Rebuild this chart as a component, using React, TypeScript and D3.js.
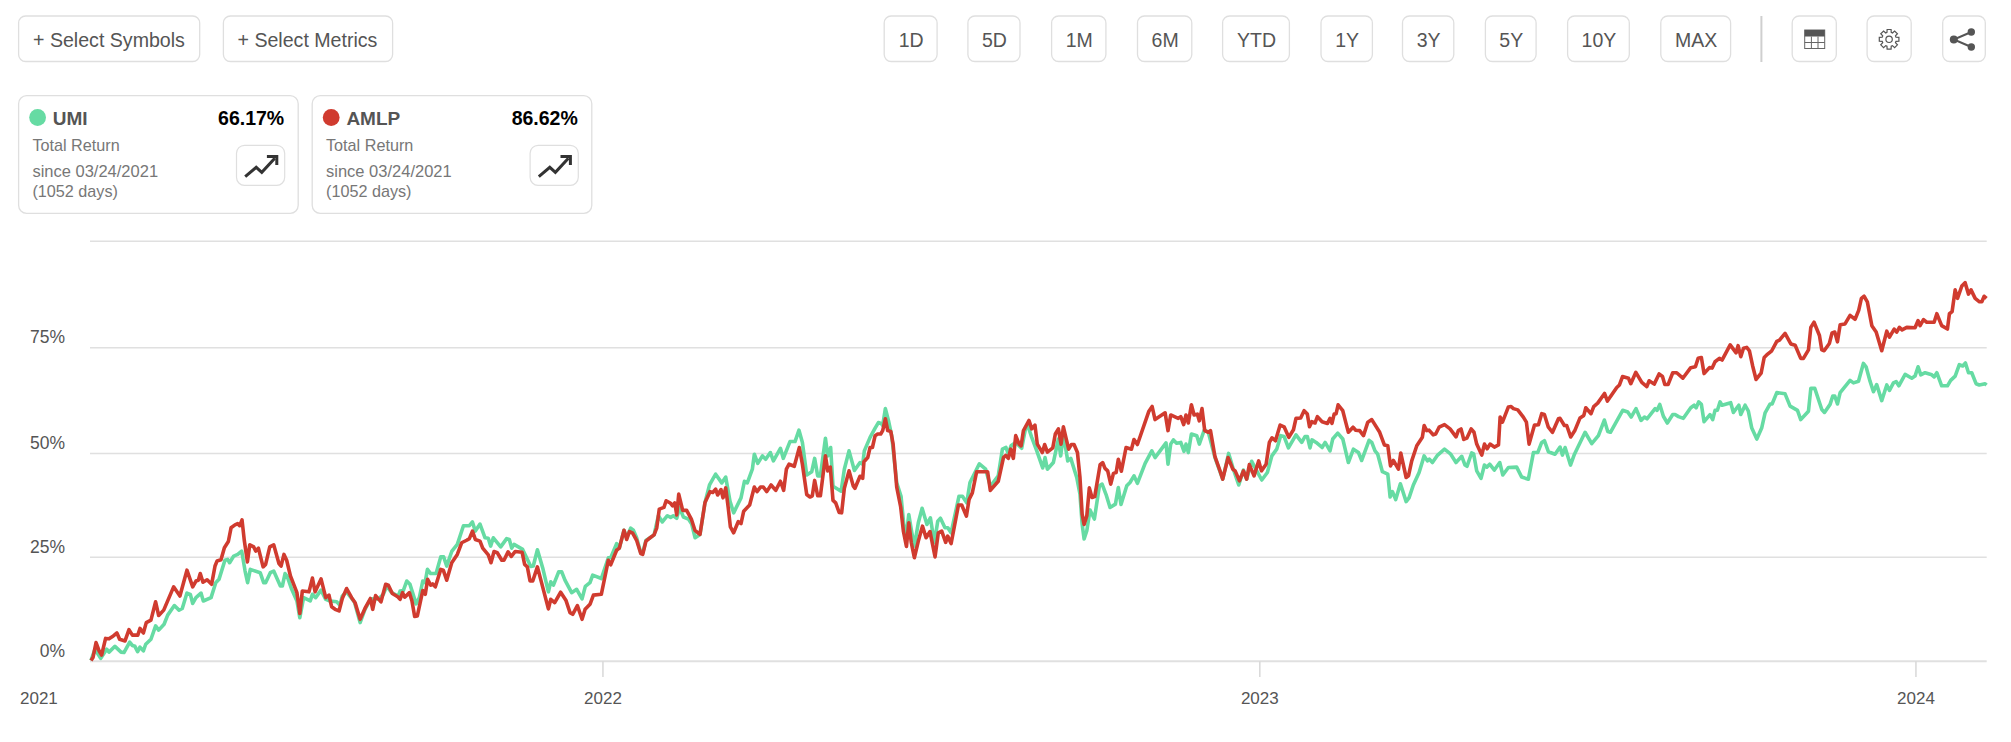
import React from 'react';
import * as d3 from 'd3';

// [days since 03/24/2021, total return %]
const umiPoints: [number, number][] = [
  [0,0.2],[2.2,2.9],[5.4,0.7],[8.7,2.9],[10,2.2],[13.3,3.6],[16.7,2.2],[18.3,2.1],[21.5,4.6],[23,3.8],[24.4,3.6],[25.9,2.3],[27.2,3.4],[29.1,2.5],[30.4,4.1],[33.3,5.3],[35.9,8.5],[37.6,7.5],[40.6,8.9],[42.6,11.1],[46.3,13.4],[48.9,12.3],[50.7,12.7],[53.3,16.4],[55.2,16.1],[56.5,13.9],[58.3,15.3],[61.1,16.4],[62.4,14.5],[66.7,15.3],[69.3,18.9],[71.1,19.7],[74.4,24.3],[75.9,24.5],[77,23.7],[79.3,25.3],[81.5,25.7],[83.7,26.5],[85.6,21.7],[87,18.9],[88.5,22.1],[94,21.3],[95.9,18.9],[97,18.9],[99.6,21.3],[101.5,21.7],[105.2,18.1],[106.3,18.1],[107.8,21.1],[108.9,20.5],[111.5,17.3],[114.4,14.5],[116,10.5],[118.1,15.3],[121.8,14.5],[123,16.1],[124.8,15.3],[127.8,17.1],[130.4,14.9],[132.8,14.5],[136.5,14.3],[138.3,13.5],[139.6,15.7],[142,16.7],[146.3,14.3],[149.5,9.3],[152.2,12.5],[155.2,14.9],[157.4,15.1],[159.6,14.9],[162.4,16.1],[164.3,18.1],[167,16.5],[170.7,15.7],
  [171.7,16.9],[173.5,17],[175.4,19.3],[177.2,18.5],[180.6,13.8],[182.4,15.3],[184.3,19.3],[185.6,18.9],[186.9,22.1],[188.7,21.1],[191.7,21.1],[194.3,25.1],[195.9,25.1],[197.6,22.9],[200.4,26.4],[203.5,28.1],[206.9,32.6],[210.2,32.6],[211.9,33.5],[213.5,31.3],[216.1,33],[218.9,29.7],[220.7,29.6],[222,27.7],[223.5,29.7],[227.6,27.5],[230.9,29.5],[232.4,29.3],[233.7,27.2],[235,28.1],[239.8,26.9],[242,24.9],[244.3,22.8],[245.7,22.9],[248,26.8],[250.9,22.5],[254.1,16.7],[255.4,19.1],[256.9,18.3],[259.8,21.5],[261.5,21.5],[263.3,19.5],[267,16.5],[269.8,17.3],[272.8,15],[274.6,18],[277.2,18.9],[278.7,20.7],[283.5,19.9],[287.4,24.9],[288.7,24.9],[292,28.3],[293.5,27.2],[296.1,31.5],[297.6,29.7],[299.8,32],[301.3,31.5],[303.1,29.7],[305.4,26.1],[306.5,26.1],[308.3,29.1],[310.6,29.7],[312.8,30.4],[315.2,35],[317.4,33.5],[320.2,35],[322,34.6],[323.5,35],[325.4,34.4],[326.9,37],[329.1,34.7],[331.9,34.2],[333.7,33],[335.6,29.7],[338.3,30.5],[341.1,38.2],[343.6,42.4],[347,45],
  [350.4,42.9],[352.6,44.3],[355,38.5],[357,35.7],[361.1,39.3],[363,43.3],[364.6,42.9],[367.4,46.2],[368.5,49.8],[370.4,47.6],[373,49.4],[374.8,48.6],[377.4,50.2],[379.1,48.2],[383,51.2],[384.6,48.8],[388.3,52.8],[391.1,52.8],[393.3,55.5],[395.2,52.6],[397.6,44.8],[400.4,45.6],[402,48.8],[403.7,44.6],[405.2,44.6],[408,53.6],[409.3,49.4],[410.9,51.4],[412.2,42.1],[416.7,40.9],[418.5,46.2],[421.1,50.6],[424.1,45.9],[427.2,47.8],[428.7,47.4],[429.6,50.6],[432.8,53.8],[435.6,56],[437.4,57.3],[438.9,57.1],[439.8,56.6],[441.3,60.6],[443,57.8],[444.8,54.2],[446.7,46.6],[447.6,42.9],[450,39.7],[451.5,32.9],[453,30.5],[454.3,35.3],[456,30.9],[457.4,27.7],[459.6,33.3],[461.7,36.8],[464.4,32.9],[466.3,34.5],[468.5,28.5],[470.4,33.7],[471.9,34.4],[474.4,32.1],[476,32.1],[477.8,30.9],[482.2,39.7],[484.1,39.7],[486.5,38.1],[488.3,43],[493.5,47.5],[497,46.2],[499.6,42.1],[504,44.6],[506.3,51],[508.3,51.4],[509.6,49.8],[511.1,51.8],[513.7,52.6],[517,51.2],[519.3,56.2],[520.4,56.6],[522.6,53.8],
  [525.4,50.6],[528.7,46.5],[530,49],[531.3,46.2],[534.6,47.8],[537.4,53.4],[538.7,49.4],[540.2,54.6],[542.6,48.2],[544.3,48.8],[547.6,44.2],[549.4,40.2],[550.6,33],[551.7,29.4],[553.2,31.4],[555,36.4],[557.4,34.2],[560.2,42.2],[561.7,42.6],[563.9,40.1],[566.1,37],[569.1,37.8],[570.7,41.8],[572.2,37.7],[575.4,42.2],[577.2,43],[579.4,44.6],[581.3,42.8],[585.6,47.6],[589.3,50.6],[591.1,49],[597.2,52.5],[598.3,47.4],[599.8,52.2],[601.3,53.2],[603.1,52.4],[605.4,52.6],[607.2,50.5],[608.3,52.2],[609.6,50.2],[611.3,54.6],[614.3,54.2],[615.7,52.2],[618.5,55.6],[620.7,55],[624.4,49],[628.7,43.8],[632,50],[634.6,46.2],[637.6,42.4],[640.2,46],[642,43.8],[644.8,48.1],[647.6,45.8],[650.4,43.6],[653.5,45.4],[656,49.4],[658.7,51],[660.9,54.2],[662.8,54],[665.2,51.3],[669.4,54.4],[672.6,52.6],[674.4,54],[675.7,54],[677.2,51.3],[678.3,53.2],[680.6,52.6],[683.9,51.4],[685.6,52.6],[688.3,50.6],[689.8,53.4],[692.6,54.8],[695.4,53.4],[698.5,47.8],
  [701.3,51],[704.1,50.2],[705.9,48.3],[710,53.1],[711.5,52.6],[713.3,50.6],[714.8,49.8],[717.4,45.6],[720.4,45],[721.7,39.5],[723,40.8],[724.8,38.9],[727.4,42.7],[730.6,38.4],[732.2,39.3],[734.6,42.4],[737.8,45.4],[740.6,49.4],[742.4,48.2],[743.5,48.6],[745.2,47.8],[748.1,49.6],[751.9,51],[755.2,49.9],[758.3,47.8],[761.5,49.3],[763.3,47.2],[764.4,46.9],[767,50.1],[768.1,49.9],[769.8,45.8],[772.2,44],[774.1,47.2],[775.4,46.7],[777,47.4],[779.6,46],[782.6,47.8],[784.3,44.8],[787.4,46.6],[792,46.7],[794.8,44.3],[798.5,43.8],[801.3,50.2],[803.7,50.2],[805.9,52.6],[807.4,53],[809.6,50.4],[813.3,49.8],[816.1,51.5],[817.4,49.6],[818.9,51.4],[821.9,47.2],[824.1,49.8],[830,55],[833.7,52.3],[837.4,54.2],[840.7,57.9],[842.6,55.2],[844.1,55],[850.9,60.2],[853.7,59.8],[855.6,58.6],[858.3,60.6],[861.1,57.8],[863,58.6],[864.4,58.2],[868.9,60.6],[870,60.2],[871.5,61.6],
  [873.5,58.8],[875.7,57.2],[878.7,59.2],[880,59.2],[881.9,58.7],[884.6,58.3],[888.7,60.8],[890.6,61.4],[891.7,60.8],[893.1,62.2],[894.6,61.6],[896.1,57.5],[899.4,59.2],[900.9,58],[902.2,60.2],[903.5,60.2],[905,62.2],[906.1,61.4],[910.9,62],[912.4,59.7],[915.4,61.4],[916.5,59.2],[918.9,61.4],[920.7,60],[922.6,56],[925.4,53.4],[928.1,56],[930,59.6],[932.8,61.7],[933.9,61.7],[936.5,64.4],[941.1,64.1],[943.9,61.2],[948,60.2],[949.8,58],[954.1,60],[955.4,65.4],[957.6,65.4],[961.5,60.4],[963,59.7],[966.1,61.6],[967.6,63.6],[968.7,63.6],[970.2,61.7],[971.7,64.4],[977.2,67.3],[979.1,66.7],[981.9,67.1],[984.6,71.3],[986.1,70.5],[988.3,67.1],[990.2,64.6],[992,66.3],[994.8,62.5],[997.6,66.2],[999.1,64.9],[1001.3,66.7],[1002.8,67],[1004.3,66],[1007.8,68.7],[1011.5,67.8],[1013.3,68.3],[1015,70.5],[1016.5,68.6],[1018.9,69.1],[1022.6,68.6],[1023.9,68.1],[1025.4,69.1],[1028.1,66],[1031.3,66],[1033.1,67.3],[1035.6,68.3],[1037.9,71],[1039.8,70.7],[1041.3,71.4],[1043,69.1],[1044.8,69.1],[1047.2,66.5],[1049,66.2],[1052.2,66.5],[1053,66.17],
];

const amlpPoints: [number, number][] = [
  [0,0.2],[1.1,0.9],[2.8,4.5],[4.4,2.6],[5.9,1.5],[8.1,5.5],[10,5.4],[12.4,6.1],[14.4,6.8],[15.9,5.3],[18.9,4.9],[21.1,7.6],[23,6.3],[26,6.3],[27.2,7.9],[29.1,6.8],[30.7,9.3],[33.3,9.9],[35.9,14.3],[37.6,11],[40.4,12.3],[45.9,17.9],[49.4,15.7],[53.3,21.9],[56.5,17.9],[58.3,19.3],[59.6,19.5],[60.7,21.1],[62.2,19],[64.5,19.6],[67,18.5],[68.9,22.9],[70,24.1],[72.2,24.4],[74.1,27.3],[76.3,28.8],[77.8,32.1],[80,32.8],[81.5,33.1],[82.6,32.6],[83.9,34],[85.2,28.9],[86.9,23.9],[88.2,28],[90.4,27.5],[91.5,26.5],[93,27.2],[95.6,22.7],[97,23.3],[99.3,27.5],[101.5,28],[104.4,23.5],[105.6,22.9],[107.2,25.7],[108.7,24.3],[110.8,20.5],[114.4,16.5],[116,11.5],[117.4,16.9],[121.1,16.7],[123,20],[124.5,16.7],[127.8,19.8],[130.4,15.3],[132.2,15.9],[133.7,13.1],[135.6,12.5],[137.8,12.1],[139.6,15.1],[142,17.5],[144.8,15.3],[146.7,14.1],[149.5,10.1],[152.2,12.7],[155.2,15.1],[156.5,12.5],[158.1,15.8],[161.1,14.3],[163.7,18.5],[165.2,18.3],[167.4,16.3],[170.4,15.5],
  [171.7,14.9],[173.1,16.5],[174.3,15.4],[176.9,16.5],[178.3,14.5],[179.8,10.8],[181.3,10.9],[184.3,17],[185.7,16.1],[187,19.7],[188.7,18.3],[189.8,18.6],[191.3,17.9],[194.3,22.1],[195.7,21.9],[197.6,19.5],[200.4,23.7],[203.5,25.7],[205.9,28.5],[208.7,29.1],[210.2,29.5],[211.9,31.3],[213.5,29.3],[216.1,28.9],[217.6,27.2],[220.7,25.6],[222.2,23.7],[223.9,26.4],[225.7,26.1],[228.2,24.3],[229.4,24.3],[231.7,26.3],[233.5,25.2],[235.7,26.4],[239.5,26.2],[240.9,23.3],[242.4,22.7],[243.9,19.3],[245.4,19.3],[248,22.7],[254.1,12.6],[255.4,14.9],[257.6,14.1],[260.9,16.6],[263.9,14.6],[266.1,11.7],[267.6,11.3],[270.2,13.4],[272.8,10.1],[274.5,12.5],[277.2,13.7],[279.1,15.9],[283.5,16.1],[287.4,24.3],[288.7,23.2],[292,26.7],[293.5,27.2],[296.1,31.5],[297.6,29.3],[299.1,31.2],[300.9,30.8],[303.1,29.1],[305.4,25.9],[306.5,25.7],[308.3,28.9],[310.6,29.7],[312.8,30.4],[314.3,32.1],[315.7,36.6],[318.3,37],[319.5,38.6],[322,38],[323.1,37.4],[324.3,38.1],[325.4,35.2],[326.5,40.2],[328.7,36.3],[330.9,36.3],[333.5,34.2],[335.5,31.5],[338.3,30.5],[341.1,38.2],[343.9,40.8],[345.4,40.6],[347,41.4],
  [348.1,40],[350,41.3],[351.1,39.3],[352.6,41.7],[354,36.9],[355.2,32.3],[357,30.9],[359.6,33.6],[361.1,33.1],[362.6,36.1],[365.9,37.6],[368.5,41.9],[370,40.8],[371.9,41.9],[373.5,41.9],[375.4,40.8],[377.8,42.4],[380.4,41.1],[383,43.3],[384.8,41.1],[386.3,46.2],[387.8,47.4],[390.7,46.9],[393.5,51.4],[395.2,47.4],[397.6,40.1],[399.4,39.5],[400.7,39.8],[402,43.5],[403.7,39.8],[405.2,39.8],[408,49.4],[409.3,45.8],[410.7,46.7],[412.2,38.7],[413.7,38.1],[415.6,35.8],[417,35.7],[418.5,41.6],[421.1,45.8],[423.5,42.1],[424.4,41.6],[427.2,44.5],[428.7,44],[429.4,48],[431.5,49],[432.8,51.4],[434.1,51.4],[435.6,54.2],[437,54.6],[438.7,54.6],[439.8,55.4],[441.3,58.2],[442.6,55.4],[444.3,55.2],[445.6,52.2],[446.7,46.6],[447.6,41.9],[449.8,37.1],[451.3,31.3],[453,27.6],[454.3,33.3],[455.7,28.5],[457.4,24.9],[459.6,28.9],[461.9,32.5],[463.9,29.7],[466.1,31.2],[468.9,25.1],[470.7,30.9],[472.6,31.3],[474.8,28.6],[475.9,30.1],[477.8,28.3],[481.9,37.6],[483.7,37.6],[486.3,34.9],[487.8,38.9],[489.6,40.5],[492,45.6],[498.1,45.6],[499.6,41.1],[504,43.3],[506.9,49],[508.1,49.5],[509.6,48.8],[510.9,51],[512.4,48.8],[513.7,54.2],[515.6,52.2],[516.7,51.8],[518,55.4],[521.1,57.8],[522.6,55.8],
  [524.4,56.7],[525.7,52.2],[528.5,50.2],[529.8,52.1],[531.3,50.3],[534.3,51.3],[535.7,54.6],[537.4,55.8],[538.9,52.2],[540.2,56.3],[543.1,51],[544.6,52.1],[546.1,52.1],[548,50.2],[549.4,44.2],[550.6,35.4],[551.7,32.9],[553.2,35],[554.6,41.7],[556.1,39.4],[557.6,39.6],[560.6,47.3],[562,47.8],[563.3,46.4],[564.8,45.8],[566.5,42.6],[568,45.2],[569.5,45.4],[570.7,48.6],[572.4,45.7],[575,51.4],[578,51],[579.4,53.3],[581.3,52.1],[587.6,59.9],[589.5,61.1],[591.1,58],[596.7,59.6],[598.3,55.4],[599.8,59.1],[604,58.3],[605.4,58.7],[607,56.8],[608.3,59.1],[609.6,57.2],[611.3,61.5],[612.8,59.1],[614.6,59.3],[615.7,57.7],[617.2,60.6],[618.7,55.4],[620.7,55],[621.9,55.4],[624.4,49.2],[627.2,45.8],[628.7,43.8],[631.7,49],[634.3,46.2],[635.6,45.8],[638,43.4],[640.2,45.8],[642,43.8],[643.5,47.3],[646.1,44.6],[648.7,48.2],[650.2,45.8],[652.8,47.4],[654.6,52.6],[656.1,53.7],[658,53],[660.6,56.7],[662.8,56.3],[665.4,53.8],[668,55.6],[669.4,58.3],[672,58.4],[673.9,60.1],[675.7,59.3],[676.9,56.3],[678.2,57.5],[680,57.2],[681.3,58.7],[683.9,57.5],[686.9,57.1],[688.3,58.3],[689.4,57.1],[690.6,59.3],[691.7,59.4],[692.8,61.5],[695.4,60.1],[697.2,57.1],[698.5,55],
  [701.1,56.2],[702.6,55.5],[704.8,55.4],[706.9,54.2],[709.3,57.4],[711.5,58],[715.9,55],[718.5,52],[720.4,51.8],[721.9,47],[723.5,48.3],[726.3,46.2],[727.6,50.1],[730.6,44.2],[731.9,44.6],[733.7,48.2],[736.5,51.8],[739.6,53.8],[740.6,56.6],[742,55.4],[743.3,55.5],[745.6,54.4],[747,54.6],[748.9,56.2],[751.9,56.8],[755,55.8],[758.3,53.9],[759.6,55.4],[761.1,55.8],[762.6,53.3],[764.3,53.6],[766.7,55.8],[768.3,55],[769.8,52.2],[772.6,49.6],[774.1,52.2],[775.6,51.1],[777.2,52.2],[779.6,51.5],[781.9,52],[782.8,58.6],[784.1,57.4],[787.4,61],[788.9,61.1],[790.2,60.6],[792.6,60.3],[795.7,58.6],[797.4,57.4],[798.9,52.2],[801.9,56.7],[804.1,56.8],[805.9,59.4],[807.4,59.2],[809.6,56.2],[811.9,55],[815.2,58.2],[816.1,58.3],[818.5,56.6],[819.8,56.6],[822,53.9],[824.4,55.5],[827.2,58.4],[829.3,59],[830.4,60.8],[833.3,59.4],[834.8,61.1],[837,61.9],
  [840.8,64.2],[842.4,62.4],[847.6,65.6],[849.1,66.2],[850.8,68.2],[854.1,67.8],[855.4,66.5],[858.2,69.2],[861.5,66.8],[864.3,65.8],[865.6,67.2],[868.4,66.4],[871.1,68.8],[873,68.2],
  [874.3,66.3],[876.1,66.3],[878.7,69.1],[880.9,69.1],[884.3,67.8],[888.7,70.3],[891.3,70.5],[892.8,72.5],[894.6,72.7],[896.1,68.9],[899.1,70.3],[900.6,70.2],[902.2,71.7],[904.6,72.5],[906.1,72.1],[910.6,75.7],[913.9,73.8],[915,75.5],[916.5,72.9],[918,74.9],[919.8,75.1],[921.3,74.3],[923.1,70.7],[925,67.5],[927.8,69],[929.5,72.7],[930.9,73.3],[933.7,74.3],[936.5,76.5],[938,76.8],[941.1,78.4],[944.3,75.9],[946.7,75.6],[949.8,72.5],[951.3,72.5],[954.1,74.5],[955.4,79.8],[957.2,81],[960.2,77.9],[961.5,74.5],[962.8,74.3],[965.7,76],[967.2,78.5],[968.7,78.7],[970.2,76.4],[971.7,80.4],[974.4,80.6],[977.2,82.6],[980,81.7],[982,83.8],[983.5,86.6],[985,87.1],[986.8,85.8],[989.3,80.2],[991.7,78.7],[994.8,74.3],[997.6,78.9],[999.1,77.5],[1001.7,79.4],[1003.1,78.7],[1004.6,79.8],[1006.1,79.2],[1008.7,79.8],[1013.3,79.7],[1015,81.4],[1016.1,80.2],[1018,81.6],[1019.8,81],[1023.9,81],[1025.4,83],[1028.1,80.2],[1031.3,79.4],[1032.4,83],[1033.9,83.5],[1035.6,88.6],[1036.9,86.6],[1039.3,89.5],[1041.1,90.3],[1043,87.6],[1044.4,88.6],[1046.7,86.6],[1049.1,85.8],[1050.4,85.8],[1051.7,87.1],[1053,86.62],
];

const yGrid = [0, 25, 50, 75, 100];
const yLabels = [0, 25, 50, 75];
const yearTicks: [string, number][] = [['2022', 284.4], ['2023', 649.3], ['2024', 1013.8]];
const ranges = ['1D', '5D', '1M', '6M', 'YTD', '1Y', '3Y', '5Y', '10Y', 'MAX'];
const rangeEdges: [number, number][] = [[884.2, 937.1], [967.9, 1020], [1051.6, 1105.9], [1137.5, 1191.8], [1222.6, 1289.4], [1321, 1372.4], [1402.5, 1453.8], [1485.4, 1536.1], [1567.6, 1629.3], [1660.8, 1730.6]];
const cards = [
  { name: 'UMI', value: '66.17%', color: '#66dba3', left: 18.6 },
  { name: 'AMLP', value: '86.62%', color: '#d03b2f', left: 312.2 },
];

const FONT = '"Liberation Sans", Arial, sans-serif';
const BORDER = '#dfdfdf';

const x = d3.scaleLinear().domain([0, 1053]).range([91, 1986.5]);
const y = d3.scaleLinear().domain([0, 25, 50, 75, 100]).range([661.3, 557.3, 453.4, 347.8, 241.3]);
const line = d3.line<[number, number]>().x(d => x(d[0])).y(d => y(d[1]));

const Btn = ({ x0, x1, y0 = 16, y1 = 61.5, r = 7 }: { x0: number; x1: number; y0?: number; y1?: number; r?: number }) => (
  <rect x={x0} y={y0} width={x1 - x0} height={y1 - y0} rx={r} fill="#fff" stroke={BORDER} strokeWidth={1.3} />
);

const Gear = ({ cx, cy }: { cx: number; cy: number }) => {
  const pts: [number, number][] = [];
  d3.range(8).forEach(i => {
    const a = (i / 8) * Math.PI * 2;
    [[-0.3, 7.2], [-0.2, 10], [0.2, 10], [0.3, 7.2]].forEach(([da, r]) => {
      pts.push([cx + Math.cos(a + da) * r, cy + Math.sin(a + da) * r]);
    });
  });
  return (
    <g fill="none" stroke="#555" strokeWidth={1.2}>
      <path d={d3.line()(pts) + 'Z'} />
      <circle cx={cx} cy={cy} r={3.2} />
    </g>
  );
};

export default function App() {
  return (
    <svg width={2011} height={742} style={{ position: 'absolute', left: 0, top: 0, background: '#fff' }} fontFamily={FONT}>
      {/* top buttons */}
      <Btn x0={18.6} x1={199.7} />
      <text x={33} y={47} fontSize={19.6} fill="#555">+ Select Symbols</text>
      <Btn x0={223.4} x1={392.6} />
      <text x={237.5} y={47} fontSize={19.6} fill="#555">+ Select Metrics</text>

      {ranges.map((r, i) => (
        <g key={r}>
          <Btn x0={rangeEdges[i][0]} x1={rangeEdges[i][1]} />
          <text x={(rangeEdges[i][0] + rangeEdges[i][1]) / 2 + 0.5} y={47} fontSize={19.5} fill="#555" textAnchor="middle">{r}</text>
        </g>
      ))}
      <line x1={1761.4} x2={1761.4} y1={16} y2={62} stroke="#cfcfcf" strokeWidth={2} />

      <Btn x0={1792.2} x1={1836.3} />
      <g>
        <rect x={1804.7} y={30} width={20} height={18.5} fill="none" stroke="#666" strokeWidth={1} />
        <rect x={1804.7} y={30} width={20} height={6.5} fill="#555" />
        <path d="M1804.7 42.5H1824.7M1811.4 36.5V48.5M1818 36.5V48.5" stroke="#666" strokeWidth={1} />
      </g>
      <Btn x0={1867.1} x1={1911.2} />
      <Gear cx={1889.1} cy={39.3} />
      <Btn x0={1942.7} x1={1985.3} />
      <g fill="#555">
        <path d="M1971.3 32L1953.8 39.5L1971.3 47" fill="none" stroke="#555" strokeWidth={2} />
        <circle cx={1971.3} cy={32} r={3.7} />
        <circle cx={1953.8} cy={39.5} r={4} />
        <circle cx={1971.3} cy={47} r={3.7} />
      </g>

      {/* legend cards */}
      {cards.map(c => (
        <g key={c.name} transform={`translate(${c.left},0)`}>
          <rect x={0} y={95.7} width={279.6} height={117.6} rx={8} fill="#fff" stroke={BORDER} strokeWidth={1.3} />
          <circle cx={19} cy={117.5} r={8.4} fill={c.color} />
          <text x={34.2} y={125} fontSize={19} fontWeight="bold" fill="#555">{c.name}</text>
          <text x={265.6} y={125} fontSize={19.5} fontWeight="bold" fill="#000" textAnchor="end">{c.value}</text>
          <text x={13.8} y={151} fontSize={16.2} fill="#777">Total Return</text>
          <text x={13.8} y={176.5} fontSize={16.5} fill="#777">since 03/24/2021</text>
          <text x={13.8} y={197} fontSize={16.2} fill="#777">(1052 days)</text>
          <rect x={217.9} y={145.3} width={48.2} height={40} rx={8} fill="#fff" stroke={BORDER} strokeWidth={1.2} />
          <path d="M226.6 176.7L237.6 167.3L243.2 172.3L256.2 158.3" fill="none" stroke="#333" strokeWidth={3} />
          <path d="M248.3 156.5H258.2V165" fill="none" stroke="#333" strokeWidth={3} />
        </g>
      ))}

      {/* grid */}
      {yGrid.map(v => (
        <line key={v} x1={90} x2={1986.7} y1={y(v)} y2={y(v)} stroke="#e0e0e0" strokeWidth={v === 0 ? 2 : 1.5} />
      ))}
      {yLabels.map(v => (
        <text key={v} x={65} y={y(v) - 4.6} fontSize={17.5} fill="#555" textAnchor="end">{v}%</text>
      ))}

      <text x={20} y={703.7} fontSize={17} fill="#555">2021</text>
      {yearTicks.map(([label, d]) => (
        <g key={label}>
          <line x1={x(d)} x2={x(d)} y1={661.3} y2={677} stroke="#d8d8d8" strokeWidth={1.5} />
          <text x={x(d)} y={703.7} fontSize={17} fill="#555" textAnchor="middle">{label}</text>
        </g>
      ))}

      {/* series */}
      <path d={line(umiPoints) as string} fill="none" stroke={cards[0].color} strokeWidth={3.6} strokeLinejoin="round" />
      <path d={line(amlpPoints) as string} fill="none" stroke={cards[1].color} strokeWidth={3.6} strokeLinejoin="round" />
    </svg>
  );
}
